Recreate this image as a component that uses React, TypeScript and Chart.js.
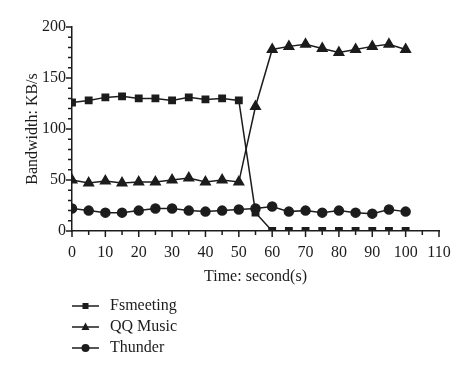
import React, { useEffect, useRef } from "react";
import { Chart, registerables } from "chart.js";

Chart.register(...registerables);

const times = [0, 5, 10, 15, 20, 25, 30, 35, 40, 45, 50, 55, 60, 65, 70, 75, 80, 85, 90, 95, 100];
const fsmeeting = [126, 128, 131, 132, 130, 130, 128, 131, 129, 130, 128, 18, 0, 0, 0, 0, 0, 0, 0, 0, 0];
const qqMusic = [50, 47, 49, 47, 48, 48, 50, 52, 48, 50, 48, 122, 178, 181, 183, 179, 175, 178, 181, 183, 178];
const thunder = [22, 20, 18, 18, 20, 22, 22, 20, 19, 20, 21, 22, 24, 19, 20, 18, 20, 18, 17, 21, 19];
const seriesNames = ["Fsmeeting", "QQ Music", "Thunder"];
const xTitle = "Time: second(s)";
const yTitle = "Bandwidth: KB/s";

const INK = "#1c1c1c";
const FONT = "'Liberation Serif', 'DejaVu Serif', serif";

const toPoints = (vals: number[]) => vals.map((v, i) => ({ x: times[i], y: v }));

const ticksPlugin = {
  id: "minorTicks",
  afterDraw(chart: any) {
    const ctx = chart.ctx;
    const xs = chart.scales.x;
    const ys = chart.scales.y;
    const area = chart.chartArea;
    ctx.save();
    ctx.strokeStyle = INK;
    ctx.lineWidth = 1.5;
    ctx.beginPath();
    for (let v = 0; v <= 110; v += 5) {
      const px = xs.getPixelForValue(v);
      const len = v % 10 === 0 ? 6 : 4;
      ctx.moveTo(px, area.bottom);
      ctx.lineTo(px, area.bottom + len);
    }
    for (let v = 0; v <= 200; v += 10) {
      const py = ys.getPixelForValue(v);
      const len = v % 50 === 0 ? 6 : 4;
      ctx.moveTo(area.left, py);
      ctx.lineTo(area.left - len, py);
    }
    ctx.stroke();
    ctx.restore();
  },
};

const legendPlugin = {
  id: "customLegend",
  afterDraw(chart: any) {
    const ctx = chart.ctx;
    const rows = [306, 327, 348];
    ctx.save();
    chart.data.datasets.forEach((ds: any, i: number) => {
      const y = rows[i];
      ctx.strokeStyle = INK;
      ctx.fillStyle = INK;
      ctx.lineWidth = 1.5;
      ctx.beginPath();
      ctx.moveTo(72, y);
      ctx.lineTo(99, y);
      ctx.stroke();
      const cx = 85.5;
      ctx.beginPath();
      if (ds.pointStyle === "rect") {
        ctx.rect(cx - 3, y - 3, 6, 6);
      } else if (ds.pointStyle === "triangle") {
        ctx.moveTo(cx, y - 4.5);
        ctx.lineTo(cx + 4, y + 3);
        ctx.lineTo(cx - 4, y + 3);
        ctx.closePath();
      } else {
        ctx.arc(cx, y, 4, 0, Math.PI * 2);
      }
      ctx.fill();
      ctx.font = `16px ${FONT}`;
      ctx.textBaseline = "middle";
      ctx.textAlign = "left";
      ctx.fillText(ds.label, 110, y);
    });
    ctx.restore();
  },
};

export default function App() {
  const ref = useRef<HTMLCanvasElement | null>(null);
  useEffect(() => {
    document.body.style.margin = "0";
    const common = {
      borderColor: INK,
      backgroundColor: INK,
      pointBorderColor: INK,
      pointBackgroundColor: INK,
      borderWidth: 1.5,
      tension: 0,
    };
    const chart = new Chart(ref.current as HTMLCanvasElement, {
      type: "line",
      data: {
        datasets: [
          { ...common, label: seriesNames[0], data: toPoints(fsmeeting), pointStyle: "rect", pointRadius: 4.5 },
          { ...common, label: seriesNames[1], data: toPoints(qqMusic), pointStyle: "triangle", pointRadius: 5.5 },
          { ...common, label: seriesNames[2], data: toPoints(thunder), pointStyle: "circle", pointRadius: 4.5 },
        ],
      },
      options: {
        animation: false,
        responsive: false,
        maintainAspectRatio: false,
        layout: { padding: { left: 0, top: 27, right: 35, bottom: 90 } },
        plugins: { legend: { display: false }, tooltip: { enabled: false } },
        scales: {
          x: {
            type: "linear",
            min: 0,
            max: 110,
            ticks: { stepSize: 10, color: INK, font: { family: FONT, size: 16 }, padding: 12, maxRotation: 0 },
            grid: { display: false, drawTicks: false },
            border: { display: true, color: INK, width: 1.5 },
            title: { display: true, text: xTitle, color: INK, font: { family: FONT, size: 16 }, padding: { top: 5, bottom: 0 } },
            afterFit: (s: any) => { s.height = 55; },
          },
          y: {
            type: "linear",
            min: 0,
            max: 200,
            ticks: { stepSize: 50, color: INK, font: { family: FONT, size: 16 }, padding: 6 },
            grid: { display: false, drawTicks: false },
            border: { display: true, color: INK, width: 1.5 },
            title: { display: true, text: yTitle, color: INK, font: { family: FONT, size: 16 }, padding: { top: 23, bottom: 4 } },
            afterFit: (s: any) => { s.width = 72; },
          },
        },
      },
      plugins: [ticksPlugin, legendPlugin],
    } as any);
    return () => chart.destroy();
  }, []);
  return (
    <div style={{ width: 474, height: 376 }}>
      <canvas ref={ref} width={474} height={376} style={{ display: "block" }} />
    </div>
  );
}
